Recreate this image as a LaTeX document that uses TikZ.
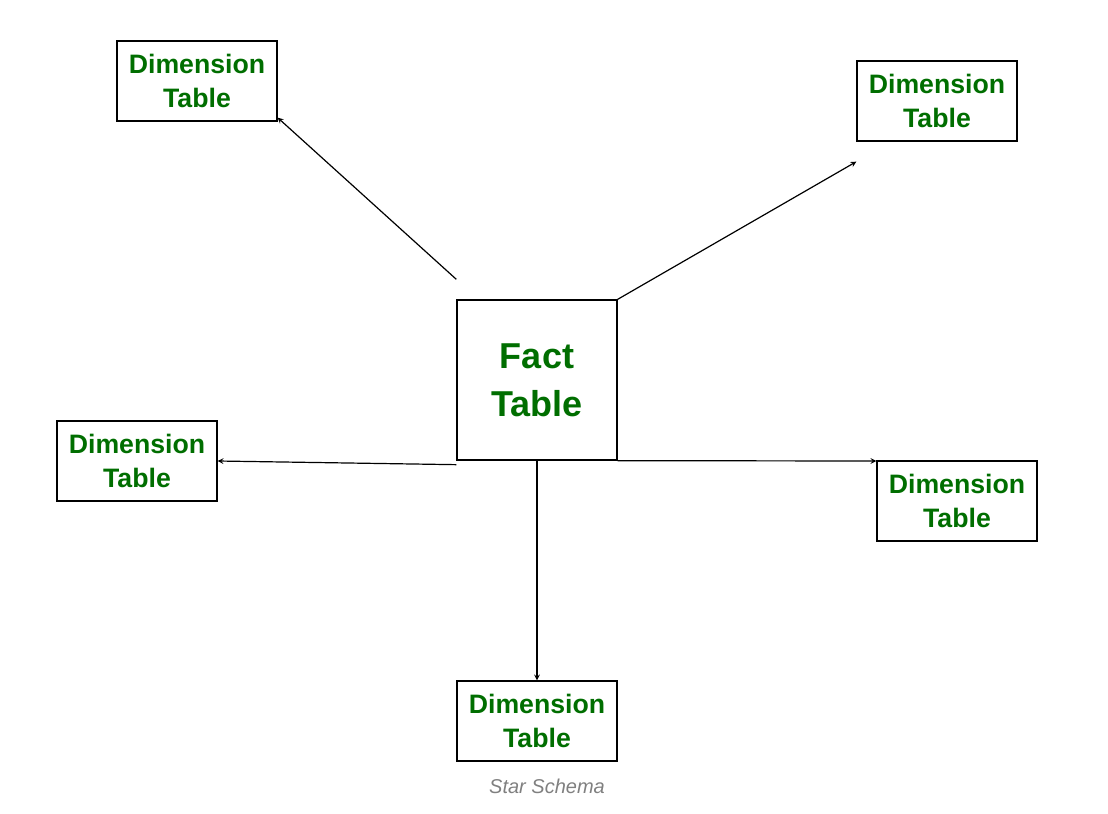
\documentclass[tikz,border=0pt]{standalone}
\usepackage{fontspec}
\setsansfont{Liberation Sans}
\definecolor{tablegreen}{RGB}{0,110,0}
\tikzset{every picture/.style={line width=0.75pt}}
\tikzset{
  dimbox/.style={draw, minimum width=120pt, minimum height=60pt, align=center, font=\sffamily\bfseries\fontsize{20}{26}\selectfont, text=tablegreen, line width=1pt},
  factbox/.style={draw, minimum width=120pt, minimum height=120pt, align=center, font=\sffamily\bfseries\fontsize{27}{36}\selectfont, text=tablegreen, line width=1pt},
  link/.style={-stealth, line width=0.9pt}
}
\begin{document}
\begin{tikzpicture}[x=0.75pt,y=0.75pt,yscale=-1,xscale=1]
\useasboundingbox (0,0) rectangle (1108,814);

% Fact node
\node[factbox] (fact) at (537,380) {Fact\\Table};
% Dimension nodes
\node[dimbox] (dimtl) at (197,81) {Dimension\\Table};
\node[dimbox] (dimtr) at (937,101) {Dimension\\Table};
\node[dimbox] (diml) at (137,461) {Dimension\\Table};
\node[dimbox] (dimr) at (957,501) {Dimension\\Table};
\node[dimbox] (dimb) at (537,721) {Dimension\\Table};

% Links
\coordinate (tlstart) at ([yshift=-15pt]fact.north west);
\draw[link] (tlstart) -- ([yshift=-3pt]dimtl.south east);
\draw[link] (fact.north east) -- ([yshift=15pt]dimtr.south west);
\draw[link] ([yshift=3pt]fact.south west) -- (diml.east);
\draw[link] (fact.south east) -- ([yshift=-30pt]dimr.west);
\draw[link] (fact.south) -- (dimb.north);

% Caption
\node[font=\sffamily\itshape\fontsize{15}{18}\selectfont, text=gray] (caption) at (547,786) {Star Schema};
\end{tikzpicture}
\end{document}
